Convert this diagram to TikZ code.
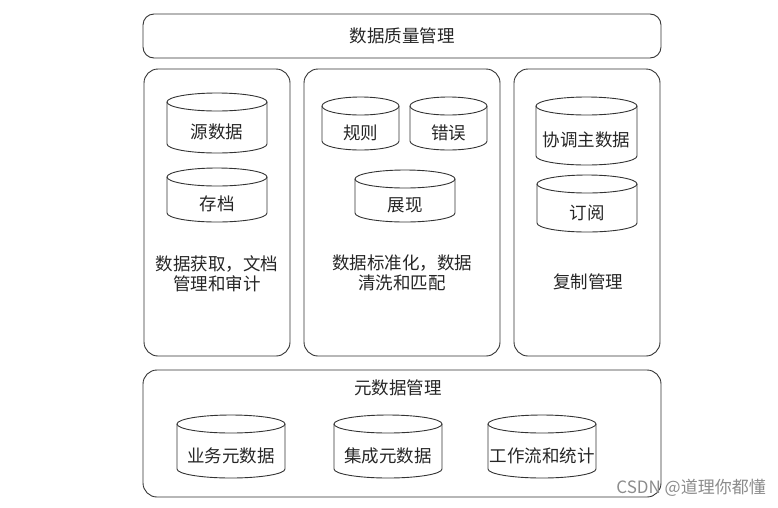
\documentclass[tikz,border=0pt]{standalone}
\usepackage{fontspec}
\setmainfont{Noto Sans CJK SC}
\newcommand\dbcyl[6]{%
  \pgfmathsetmacro\cylcx{(#2+#3)/2}%
  \pgfmathsetmacro\cylrx{(#3-#2)/2}%
  \pgfmathsetmacro\cylta{#4+9}%
  \pgfmathsetmacro\cylba{#5-9}%
  \pgfmathsetmacro\cylty{(#4+18+#5)/2}%
  \draw[cylline] (\cylcx,\cylta) ellipse[x radius=\cylrx, y radius=9];
  \draw[cylline] (#2,\cylta) -- (#2,\cylba) arc[start angle=180,end angle=0,x radius=\cylrx,y radius=9] -- (#3,\cylta);
  \node[lbl] (#1) at (\cylcx,\cylty) {#6};}
\begin{document}
\begin{tikzpicture}[x=1pt,y=-1pt,
  lbl/.style={font=\fontsize{17.5}{19.5}\selectfont, text=black!85, align=center, inner sep=0pt},
  cylline/.style={draw=black!80, line width=0.9pt},
  panel/.style={draw=black!80, line width=0.9pt, rounded corners=14pt, inner sep=0pt},
  topbar/.style={draw=black!80, line width=0.9pt, rounded corners=11pt, inner sep=0pt, font=\fontsize{17.5}{19.5}\selectfont, text=black!85}]
\useasboundingbox (0,0) rectangle (778,507);
% top bar
\node[topbar, minimum width=518pt, minimum height=44pt] (dq) at (402,36) {数据质量管理};
% three panels
\node[panel, minimum width=146pt, minimum height=287pt] (p1) at (217,212.5) {};
\node[panel, minimum width=196pt, minimum height=287pt] (p2) at (402,212.5) {};
\node[panel, minimum width=146pt, minimum height=287pt] (p3) at (587,212.5) {};
% bottom panel
\node[panel, minimum width=518pt, minimum height=127pt] (p4) at (402,433.5) {};
% left panel
\dbcyl{src}{167}{267}{93}{153}{源数据}
\dbcyl{arc}{167}{267}{168}{222}{存档}
\node[lbl] (t1) at (217,274) {数据获取，文档\\管理和审计};
% middle panel
\dbcyl{rule}{322}{399}{97}{150}{规则}
\dbcyl{err}{410}{487}{97}{150}{错误}
\dbcyl{show}{355}{455}{170}{222}{展现}
\node[lbl] (t2) at (402,273) {数据标准化，数据\\清洗和匹配};
% right panel
\dbcyl{mdm}{536}{637}{97}{165}{协调主数据}
\dbcyl{sub}{537}{637}{175}{232}{订阅}
\node[lbl] (t3) at (588,282) {复制管理};
% bottom panel
\node[lbl] (t4) at (398,388) {元数据管理};
\dbcyl{bmd}{177}{285}{415}{478}{业务元数据}
\dbcyl{imd}{334}{442}{415}{478}{集成元数据}
\dbcyl{wfs}{488}{596}{415}{478}{工作流和统计}
% watermark
\node[font=\fontsize{17}{19}\selectfont, text=black!45, anchor=east, inner sep=0pt] (wm) at (766,488) {CSDN @道理你都懂};
\end{tikzpicture}
\end{document}
